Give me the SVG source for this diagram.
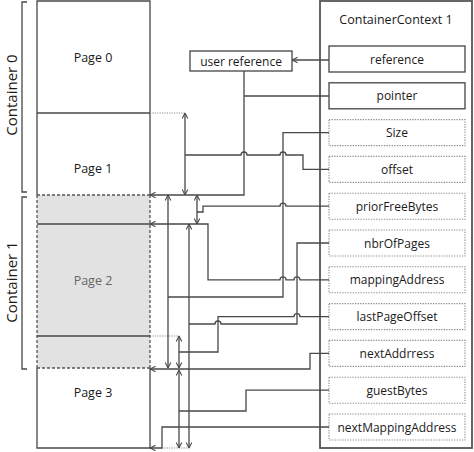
<svg xmlns="http://www.w3.org/2000/svg" width="474" height="452" viewBox="0 0 474 452">
<style>
text{font-family:"Open Sans","Noto Sans","Liberation Sans",sans-serif;fill:#1a1a1a}
.pg{font-size:12.5px;text-anchor:middle}
.fld{font-size:12px;text-anchor:middle}
.cn{font-size:15px;text-anchor:middle}
.ln{fill:none;stroke:#484848;stroke-width:1.3}
.dot{fill:none;stroke:#8a8a8a;stroke-width:1.2;stroke-dasharray:1.2 1.2}
.solidbox{fill:#fff;stroke:#444;stroke-width:1.3}
.dotbox{fill:#fff;stroke:#8a8a8a;stroke-width:1.1;stroke-dasharray:1.3 1.3}
</style>
<defs>
<marker id="arr" viewBox="0 0 10 10" refX="10" refY="5" markerWidth="7" markerHeight="7" markerUnits="userSpaceOnUse" orient="auto-start-reverse">
<path d="M2,1 L10,5 L2,9" fill="none" stroke="#484848" stroke-width="1.5"/>
</marker>
</defs>
<rect width="474" height="452" fill="#fff"/>

<g id="container0-bracket">
<path class="ln" d="M27,2 H22 V192 H27"/>
<text class="cn" transform="translate(17,95) rotate(-90)">Container 0</text>
</g>
<g id="container1-bracket">
<path class="ln" d="M27,197 H22 V369 H27"/>
<text class="cn" transform="translate(17,282) rotate(-90)">Container 1</text>
</g>

<g id="memory">
<rect x="37" y="195" width="113" height="173" fill="#e2e2e2"/>
<path class="ln" d="M37,195 V1 H150 V195" stroke-width="1.6"/>
<path class="ln" d="M37,368 V448 H150 V368" stroke-width="1.4"/>
<path d="M37,195 V368 M150,195 V368 M37,195 H150 M37,368 H150" fill="none" stroke="#555" stroke-width="1.3" stroke-dasharray="3 2"/>
<path class="ln" d="M37,113 H150 M37,224 H150 M37,336 H150"/>
</g>
<g id="page0"><text class="pg" x="93" y="62">Page 0</text></g>
<g id="page1"><text class="pg" x="93" y="173">Page 1</text></g>
<g id="page2"><text class="pg" x="93" y="285" style="fill:#666">Page 2</text></g>
<g id="page3"><text class="pg" x="93" y="397">Page 3</text></g>

<g id="user-reference">
<rect class="solidbox" x="190" y="51" width="102" height="20"/>
<text class="fld" x="241" y="65.5">user reference</text>
</g>

<g id="containercontext">
<rect x="320" y="1" width="152" height="447" fill="#fff" stroke="#555" stroke-width="1.8"/>
<text x="396" y="24" style="font-size:12.5px;text-anchor:middle">ContainerContext 1</text>
</g>
<g id="f-reference"><rect class="solidbox" x="329" y="46" width="136" height="26"/><text class="fld" x="397" y="63.5">reference</text></g>
<g id="f-pointer"><rect class="solidbox" x="329" y="82.8" width="136" height="26"/><text class="fld" x="397" y="100.3">pointer</text></g>
<g id="f-size"><rect class="dotbox" x="329" y="119.6" width="136" height="26"/><text class="fld" x="397" y="137.1">Size</text></g>
<g id="f-offset"><rect class="dotbox" x="329" y="156.4" width="136" height="26"/><text class="fld" x="397" y="173.9">offset</text></g>
<g id="f-priorFreeBytes"><rect class="dotbox" x="329" y="193.2" width="136" height="26"/><text class="fld" x="397" y="210.7">priorFreeBytes</text></g>
<g id="f-nbrOfPages"><rect class="dotbox" x="329" y="230" width="136" height="26"/><text class="fld" x="397" y="247.5">nbrOfPages</text></g>
<g id="f-mappingAddress"><rect class="dotbox" x="329" y="266.8" width="136" height="26"/><text class="fld" x="397" y="284.3">mappingAddress</text></g>
<g id="f-lastPageOffset"><rect class="dotbox" x="329" y="303.6" width="136" height="26"/><text class="fld" x="397" y="321.1">lastPageOffset</text></g>
<g id="f-nextAddrress"><rect class="dotbox" x="329" y="340.4" width="136" height="26"/><text class="fld" x="397" y="357.9">nextAddrress</text></g>
<g id="f-guestBytes"><rect class="dotbox" x="329" y="377.2" width="136" height="26"/><text class="fld" x="397" y="394.7">guestBytes</text></g>
<g id="f-nextMappingAddress"><rect class="dotbox" x="329" y="414" width="136" height="26"/><text class="fld" x="397" y="431.5">nextMappingAddress</text></g>

<g id="connectors">
<path class="dot" d="M150,113 H186 M150,336 H180 M162,448 H191"/>
<path class="ln" d="M329,60 H292" marker-end="url(#arr)"/>
<path class="ln" d="M244,71 V195 H150" marker-end="url(#arr)"/>
<path class="ln" d="M329,96 H244"/>
<path class="ln" d="M329,132.6 H283 V297 H168"/>
<path class="ln" d="M168,195 V368" marker-start="url(#arr)" marker-end="url(#arr)"/>
<path class="ln" d="M329,169.4 H303 V155 H286 A3,3 0 0 0 280,155 H247 A3,3 0 0 0 241,155 H185"/>
<path class="ln" d="M185,113 V195" marker-start="url(#arr)" marker-end="url(#arr)"/>
<path class="ln" d="M329,206.2 H286 A3,3 0 0 0 280,206.2 H203 V212 H197"/>
<path class="ln" d="M197,195 V224" marker-start="url(#arr)" marker-end="url(#arr)"/>
<path class="ln" d="M329,243 H297 V324 H221 A3,3 0 0 0 215,324 H189"/>
<path class="ln" d="M189,224 V448" marker-start="url(#arr)" marker-end="url(#arr)"/>
<path class="ln" d="M329,279.8 H300 A3,3 0 0 0 294,279.8 H286 A3,3 0 0 0 280,279.8 H208 V224 H150" marker-end="url(#arr)"/>
<path class="ln" d="M329,316.6 H300 A3,3 0 0 0 294,316.6 H218 V352 H179"/>
<path class="ln" d="M179,336 V368" marker-start="url(#arr)" marker-end="url(#arr)"/>
<path class="ln" d="M329,353.4 H310 V369 H150" marker-end="url(#arr)"/>
<path class="ln" d="M329,390.2 H246 V411 H179"/>
<path class="ln" d="M179,370 V448" marker-start="url(#arr)" marker-end="url(#arr)"/>
<path class="ln" d="M329,427 H162 V448 H150" marker-end="url(#arr)"/>
</g>
</svg>
